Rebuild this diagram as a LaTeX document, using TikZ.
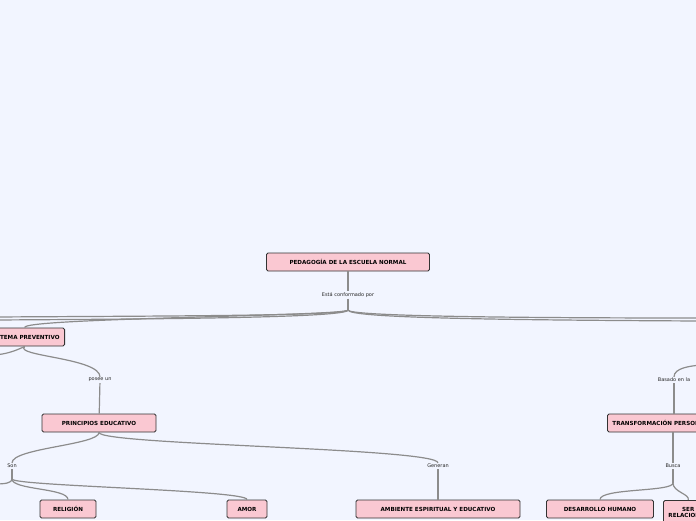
\documentclass[tikz,border=0pt]{standalone}
\usepackage{fontspec}
\setmainfont{DejaVu Sans}
\definecolor{bg}{RGB}{242,245,255}
\definecolor{pinkbox}{RGB}{250,200,210}
\begin{document}
\begin{tikzpicture}[x=1pt,y=-1pt,
 box/.style={draw=black!80,line width=0.9pt,fill=pinkbox,rounded corners=1.5pt,font=\bfseries\fontsize{5.6}{6.3}\selectfont,inner xsep=5pt,minimum height=18pt,align=center},
 lab/.style={font=\fontsize{5}{6}\selectfont,text=black!85,inner sep=1pt},
 con/.style={draw=black!45,line width=1.2pt}]
\fill[bg] (0,0) rectangle (696,520);
\useasboundingbox (0,0) rectangle (696,520);
\node[box,minimum width=163pt] (root) at (348,262) {PEDAGOGÍA DE LA ESCUELA NORMAL};
\node[lab] (est) at (348,295) {Está conformado por};
\node[box,anchor=east] (sis) at (65,337) {SISTEMA PREVENTIVO};
\node[lab] (posee) at (100,380) {posee un};
\node[box,minimum width=114pt] (prin) at (99,423) {PRINCIPIOS EDUCATIVO};
\node[lab] (son) at (12,466) {Son};
\node[lab] (gen) at (438,466) {Generan};
\node[box,minimum width=56pt] (rel) at (68,509) {RELIGIÓN};
\node[box,minimum width=40pt] (amor) at (247,509) {AMOR};
\node[box,minimum width=164pt] (amb) at (438,509) {AMBIENTE ESPIRITUAL Y EDUCATIVO};
\node[lab] (bas) at (674,380) {Basado en la};
\node[box,anchor=west] (tra) at (607,423) {TRANSFORMACIÓN PERSONAL};
\node[lab] (bus) at (673,466) {Busca};
\node[box,minimum width=107pt] (des) at (600,509) {DESARROLLO HUMANO};
\node[box,anchor=north west,minimum height=24pt] (ser) at (663,500) {SER\\RELACIONAL};
\coordinate (L1) at (-5,317); \coordinate (L2) at (-5,320);
\coordinate (R1) at (701,318); \coordinate (R2) at (701,321); \coordinate (R3) at (701,365);
\coordinate (L3) at (-5,355); \coordinate (L4) at (-5,484);
\coordinate (sb) at (348,310); \coordinate (sonb) at (12,479);
\coordinate (busb) at (673,483);
\draw[con] (root) -- (est);
\draw[con] (est) -- (sb);
\draw[con] (sb) .. controls (348,316) and (150,316) .. (L1);
\draw[con] (sb) .. controls (348,318) and (150,319) .. (L2);
\draw[con] (sb) .. controls (348,316) and (20,318) .. (sis.north);
\draw[con] (sb) .. controls (348,316) and (500,318) .. (R1);
\draw[con] (sb) .. controls (348,318) and (500,320) .. (R2);
\draw[con] (sis.south) .. controls (13,356) and (100,358) .. (posee.north);
\draw[con] (sis.south) .. controls (13,352) and (5,354) .. (L3);
\draw[con] (posee) -- (prin);
\draw[con] (prin.south) .. controls (99,445) and (12,448) .. (son.north);
\draw[con] (prin.south) .. controls (99,445) and (438,448) .. (gen.north);
\draw[con] (son) -- (sonb);
\draw[con] (sonb) .. controls (12,490) and (68,488) .. (rel.north);
\draw[con] (sonb) .. controls (12,486) and (247,490) .. (amor.north);
\draw[con] (sonb) .. controls (12,483) and (5,484) .. (L4);
\draw[con] (gen) -- (amb);
\draw[con] (bas.north) .. controls (674,368) and (690,366) .. (R3);
\draw[con] (bas.south) -- (bas.south |- tra.north);
\draw[con] (bus.north |- tra.south) -- (bus.north);
\draw[con] (bus) -- (busb);
\draw[con] (busb) .. controls (673,492) and (600,488) .. (des.north);
\draw[con] (busb) .. controls (673,492) and (690,494) .. (ser.north);
\end{tikzpicture}
\end{document}
